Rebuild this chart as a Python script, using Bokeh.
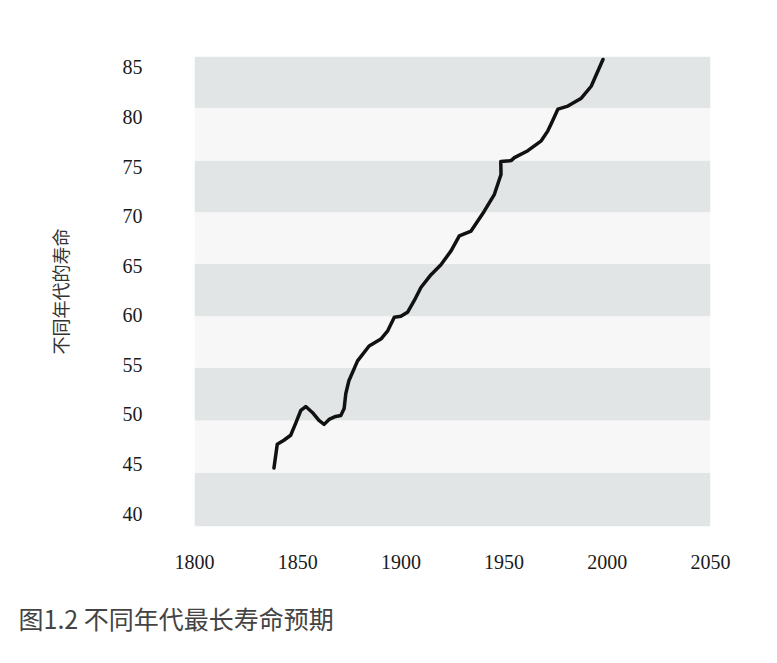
from bokeh.plotting import figure
from bokeh.models import Title, FixedTicker, BoxAnnotation
from bokeh.embed import file_html
from bokeh.resources import INLINE

# data
years = [1838.5, 1840.1, 1843.3, 1846.6, 1849.0, 1851.5, 1853.9, 1857.1, 1860.3, 1862.8,
         1865.2, 1868.4, 1870.9, 1872.5, 1873.3, 1874.8, 1879.0, 1884.6, 1890.3, 1893.5,
         1896.8, 1900.0, 1903.2, 1906.5, 1909.7, 1914.6, 1919.4, 1924.3, 1928.3, 1934.0,
         1940.4, 1945.3, 1947.2, 1948.5, 1948.4, 1953.4, 1955.0, 1961.5, 1968.0, 1971.2,
         1973.0, 1976.1, 1980.9, 1987.4, 1992.2, 1997.9]
life = [44.6, 47.0, 47.4, 47.9, 49.1, 50.4, 50.8, 50.2, 49.4, 49.0,
        49.5, 49.8, 49.9, 50.6, 52.1, 53.4, 55.4, 56.9, 57.6, 58.4,
        59.8, 59.9, 60.3, 61.5, 62.8, 64.1, 65.1, 66.5, 68.0, 68.5,
        70.5, 72.2, 73.4, 74.2, 75.5, 75.6, 75.9, 76.6, 77.6, 78.6,
        79.4, 80.8, 81.1, 81.9, 83.1, 85.8]

x_ticks = [1800, 1850, 1900, 1950, 2000, 2050]
y_ticks = [40, 45, 50, 55, 60, 65, 70, 75, 80, 85]
band_edges = [38.7, 44.1, 49.4, 54.7, 59.9, 65.2, 70.4, 75.6, 80.9, 86.1]

y_label = "不同年代的寿命"
caption = "图1.2 不同年代最长寿命预期"

W, H = 770, 663
p = figure(width=W, height=H, output_backend="svg", toolbar_location=None,
           x_range=(1800, 2050), y_range=(38.7, 86.1),
           min_border_left=194, min_border_right=W - 710,
           min_border_top=56, min_border_bottom=H - 526)
p.background_fill_color = "white"
p.border_fill_color = "white"
p.outline_line_color = None
p.grid.visible = False

for i in range(len(band_edges) - 1):
    color = "#e2e5e5" if i % 2 == 0 else "#f7f7f7"
    p.add_layout(BoxAnnotation(bottom=band_edges[i], top=band_edges[i + 1],
                               fill_color=color, fill_alpha=1.0, line_color=None,
                               level="underlay"))

p.line(years, life, line_color="#111111", line_width=3.5, line_join="round", line_cap="round")

for ax in (p.xaxis[0], p.yaxis[0]):
    ax.axis_line_color = None
    ax.major_tick_line_color = None
    ax.minor_tick_line_color = None
    ax.major_label_text_font = "Liberation Serif"
    ax.major_label_text_font_size = "20px"
    ax.major_label_text_color = "#1a1a1a"

p.xaxis.ticker = FixedTicker(ticks=x_ticks)
p.yaxis.ticker = FixedTicker(ticks=y_ticks)
p.xaxis.major_label_standoff = 22
p.yaxis.major_label_standoff = 46

p.yaxis.axis_label = y_label
p.yaxis.axis_label_text_font = "Noto Sans CJK SC"
p.yaxis.axis_label_text_font_size = "18px"
p.yaxis.axis_label_text_font_style = "normal"
p.yaxis.axis_label_text_color = "#333333"
p.yaxis.axis_label_standoff = 47

p.add_layout(Title(text=caption, align="left", offset=-176, standoff=53,
                   text_font="Noto Sans CJK SC", text_font_size="25px",
                   text_font_style="normal", text_color="#444444"), "below")

open("out.html", "w").write(file_html(p, INLINE))
